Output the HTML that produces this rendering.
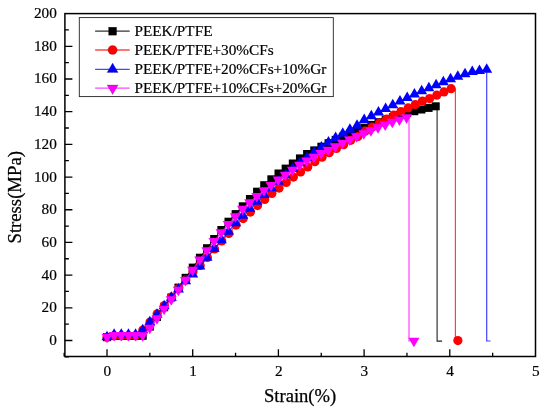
<!DOCTYPE html>
<html><head><meta charset="utf-8"><title>Stress-Strain</title>
<style>html,body{margin:0;padding:0;background:#fff}body{width:550px;height:411px;overflow:hidden}</style>
</head><body>
<svg width="550" height="411" viewBox="0 0 550 411" style="display:block">
<rect width="550" height="411" fill="#fff"/>
<path d="M107 337.2 L114.15 336 L121.29 336 L128.44 336 L135.58 336 L142.73 335.8 L149.88 326.6 L157.02 317 L164.17 307.3 L171.31 297.5 L178.46 287.6 L185.61 277.8 L192.75 267.6 L199.9 257.7 L207.04 248.2 L214.19 239 L221.34 230 L228.48 221.7 L235.63 214.1 L242.77 206.3 L249.92 199 L257.07 191.7 L264.21 185.2 L271.36 179.3 L278.5 173.5 L285.65 168.6 L292.8 163.5 L299.94 158.4 L307.09 154 L314.23 150.4 L321.38 146.7 L328.53 143.2 L335.67 139.9 L342.82 136.7 L349.96 133.6 L357.11 130.6 L364.26 127.7 L371.4 124.9 L378.55 122.2 L385.69 119.6 L392.84 117.2 L399.99 115 L407.13 113 L414.28 111.2 L421.42 109.5 L428.57 107.9 L435.72 106.3 L437.1 106.5 L437.1 341.1 L442.1 341.1" fill="none" stroke="#222" stroke-width="1.1"/>
<rect x="103" y="333.2" width="8" height="8" fill="#000"/>
<rect x="110.15" y="332" width="8" height="8" fill="#000"/>
<rect x="117.29" y="332" width="8" height="8" fill="#000"/>
<rect x="124.44" y="332" width="8" height="8" fill="#000"/>
<rect x="131.58" y="332" width="8" height="8" fill="#000"/>
<rect x="138.73" y="331.8" width="8" height="8" fill="#000"/>
<rect x="145.88" y="322.6" width="8" height="8" fill="#000"/>
<rect x="153.02" y="313" width="8" height="8" fill="#000"/>
<rect x="160.17" y="303.3" width="8" height="8" fill="#000"/>
<rect x="167.31" y="293.5" width="8" height="8" fill="#000"/>
<rect x="174.46" y="283.6" width="8" height="8" fill="#000"/>
<rect x="181.61" y="273.8" width="8" height="8" fill="#000"/>
<rect x="188.75" y="263.6" width="8" height="8" fill="#000"/>
<rect x="195.9" y="253.7" width="8" height="8" fill="#000"/>
<rect x="203.04" y="244.2" width="8" height="8" fill="#000"/>
<rect x="210.19" y="235" width="8" height="8" fill="#000"/>
<rect x="217.34" y="226" width="8" height="8" fill="#000"/>
<rect x="224.48" y="217.7" width="8" height="8" fill="#000"/>
<rect x="231.63" y="210.1" width="8" height="8" fill="#000"/>
<rect x="238.77" y="202.3" width="8" height="8" fill="#000"/>
<rect x="245.92" y="195" width="8" height="8" fill="#000"/>
<rect x="253.07" y="187.7" width="8" height="8" fill="#000"/>
<rect x="260.21" y="181.2" width="8" height="8" fill="#000"/>
<rect x="267.36" y="175.3" width="8" height="8" fill="#000"/>
<rect x="274.5" y="169.5" width="8" height="8" fill="#000"/>
<rect x="281.65" y="164.6" width="8" height="8" fill="#000"/>
<rect x="288.8" y="159.5" width="8" height="8" fill="#000"/>
<rect x="295.94" y="154.4" width="8" height="8" fill="#000"/>
<rect x="303.09" y="150" width="8" height="8" fill="#000"/>
<rect x="310.23" y="146.4" width="8" height="8" fill="#000"/>
<rect x="317.38" y="142.7" width="8" height="8" fill="#000"/>
<rect x="324.53" y="139.2" width="8" height="8" fill="#000"/>
<rect x="331.67" y="135.9" width="8" height="8" fill="#000"/>
<rect x="338.82" y="132.7" width="8" height="8" fill="#000"/>
<rect x="345.96" y="129.6" width="8" height="8" fill="#000"/>
<rect x="353.11" y="126.6" width="8" height="8" fill="#000"/>
<rect x="360.26" y="123.7" width="8" height="8" fill="#000"/>
<rect x="367.4" y="120.9" width="8" height="8" fill="#000"/>
<rect x="374.55" y="118.2" width="8" height="8" fill="#000"/>
<rect x="381.69" y="115.6" width="8" height="8" fill="#000"/>
<rect x="388.84" y="113.2" width="8" height="8" fill="#000"/>
<rect x="395.99" y="111" width="8" height="8" fill="#000"/>
<rect x="403.13" y="109" width="8" height="8" fill="#000"/>
<rect x="410.28" y="107.2" width="8" height="8" fill="#000"/>
<rect x="417.42" y="105.5" width="8" height="8" fill="#000"/>
<rect x="424.57" y="103.9" width="8" height="8" fill="#000"/>
<rect x="431.72" y="102.3" width="8" height="8" fill="#000"/>
<path d="M107 337.3 L114.17 335.8 L121.34 335.8 L128.51 335.8 L135.68 335.8 L142.84 330 L150.01 322 L157.18 313.8 L164.35 305.5 L171.52 297 L178.69 288.5 L185.86 280 L193.03 271.6 L200.2 265.5 L207.37 257.5 L214.53 249 L221.7 241 L228.87 233.5 L236.04 225.1 L243.21 218.6 L250.38 212.1 L257.55 205.6 L264.72 199.4 L271.89 193.4 L279.06 188.1 L286.23 182.4 L293.39 177.1 L300.56 171.9 L307.73 166.9 L314.9 161.7 L322.07 157.2 L329.24 152.7 L336.41 148.5 L343.58 144.7 L350.75 140.3 L357.91 136.6 L365.08 131.2 L372.25 127 L379.42 123 L386.59 119 L393.76 115.2 L400.93 111.5 L408.1 107.9 L415.27 104.5 L422.44 101 L429.6 98.6 L436.77 95.2 L443.94 91.9 L451.11 88.7 L455.4 89 L455.4 340.5 L457.9 340.5" fill="none" stroke="#f00" stroke-width="1.2" stroke-opacity="0.75"/>
<circle cx="107" cy="337.3" r="4.6" fill="#f00"/>
<circle cx="114.17" cy="335.8" r="4.6" fill="#f00"/>
<circle cx="121.34" cy="335.8" r="4.6" fill="#f00"/>
<circle cx="128.51" cy="335.8" r="4.6" fill="#f00"/>
<circle cx="135.68" cy="335.8" r="4.6" fill="#f00"/>
<circle cx="142.84" cy="330" r="4.6" fill="#f00"/>
<circle cx="150.01" cy="322" r="4.6" fill="#f00"/>
<circle cx="157.18" cy="313.8" r="4.6" fill="#f00"/>
<circle cx="164.35" cy="305.5" r="4.6" fill="#f00"/>
<circle cx="171.52" cy="297" r="4.6" fill="#f00"/>
<circle cx="178.69" cy="288.5" r="4.6" fill="#f00"/>
<circle cx="185.86" cy="280" r="4.6" fill="#f00"/>
<circle cx="193.03" cy="271.6" r="4.6" fill="#f00"/>
<circle cx="200.2" cy="265.5" r="4.6" fill="#f00"/>
<circle cx="207.37" cy="257.5" r="4.6" fill="#f00"/>
<circle cx="214.53" cy="249" r="4.6" fill="#f00"/>
<circle cx="221.7" cy="241" r="4.6" fill="#f00"/>
<circle cx="228.87" cy="233.5" r="4.6" fill="#f00"/>
<circle cx="236.04" cy="225.1" r="4.6" fill="#f00"/>
<circle cx="243.21" cy="218.6" r="4.6" fill="#f00"/>
<circle cx="250.38" cy="212.1" r="4.6" fill="#f00"/>
<circle cx="257.55" cy="205.6" r="4.6" fill="#f00"/>
<circle cx="264.72" cy="199.4" r="4.6" fill="#f00"/>
<circle cx="271.89" cy="193.4" r="4.6" fill="#f00"/>
<circle cx="279.06" cy="188.1" r="4.6" fill="#f00"/>
<circle cx="286.23" cy="182.4" r="4.6" fill="#f00"/>
<circle cx="293.39" cy="177.1" r="4.6" fill="#f00"/>
<circle cx="300.56" cy="171.9" r="4.6" fill="#f00"/>
<circle cx="307.73" cy="166.9" r="4.6" fill="#f00"/>
<circle cx="314.9" cy="161.7" r="4.6" fill="#f00"/>
<circle cx="322.07" cy="157.2" r="4.6" fill="#f00"/>
<circle cx="329.24" cy="152.7" r="4.6" fill="#f00"/>
<circle cx="336.41" cy="148.5" r="4.6" fill="#f00"/>
<circle cx="343.58" cy="144.7" r="4.6" fill="#f00"/>
<circle cx="350.75" cy="140.3" r="4.6" fill="#f00"/>
<circle cx="357.91" cy="136.6" r="4.6" fill="#f00"/>
<circle cx="365.08" cy="131.2" r="4.6" fill="#f00"/>
<circle cx="372.25" cy="127" r="4.6" fill="#f00"/>
<circle cx="379.42" cy="123" r="4.6" fill="#f00"/>
<circle cx="386.59" cy="119" r="4.6" fill="#f00"/>
<circle cx="393.76" cy="115.2" r="4.6" fill="#f00"/>
<circle cx="400.93" cy="111.5" r="4.6" fill="#f00"/>
<circle cx="408.1" cy="107.9" r="4.6" fill="#f00"/>
<circle cx="415.27" cy="104.5" r="4.6" fill="#f00"/>
<circle cx="422.44" cy="101" r="4.6" fill="#f00"/>
<circle cx="429.6" cy="98.6" r="4.6" fill="#f00"/>
<circle cx="436.77" cy="95.2" r="4.6" fill="#f00"/>
<circle cx="443.94" cy="91.9" r="4.6" fill="#f00"/>
<circle cx="451.11" cy="88.7" r="4.6" fill="#f00"/>
<circle cx="457.9" cy="340.6" r="4.6" fill="#f00"/>
<path d="M107 337.2 L114.14 334.7 L121.29 334.7 L128.43 334.7 L135.58 334.7 L142.72 330 L149.86 322.2 L157.01 314.5 L164.15 306 L171.3 297.5 L178.44 289.3 L185.58 281.2 L192.73 274.4 L199.87 266.4 L207.02 257.6 L214.16 248.8 L221.3 240.1 L228.45 231.6 L235.59 223 L242.74 215.5 L249.88 208.5 L257.02 201.5 L264.17 194.8 L271.31 188.2 L278.46 181.5 L285.6 175.1 L292.74 168.8 L299.89 163 L307.03 157.8 L314.18 152.3 L321.32 147.4 L328.46 142.4 L335.61 137.8 L342.75 133.6 L349.9 129.7 L357.04 125.7 L364.18 119.8 L371.33 116 L378.47 112.3 L385.62 108.8 L392.76 105.2 L399.98 101.3 L407.2 97.8 L414.43 94.4 L421.66 91.2 L428.88 88 L436.11 85.2 L443.34 82 L450.57 79.2 L457.79 76.7 L465.02 74.2 L472.25 71.9 L479.47 70.9 L486.7 69.5 L486.7 341 L490.5 341" fill="none" stroke="#00f" stroke-width="1.2" stroke-opacity="0.75"/>
<path d="M101.5 340.37H112.5L107 330.87Z" fill="#00f"/>
<path d="M108.64 337.87H119.64L114.14 328.37Z" fill="#00f"/>
<path d="M115.79 337.87H126.79L121.29 328.37Z" fill="#00f"/>
<path d="M122.93 337.87H133.93L128.43 328.37Z" fill="#00f"/>
<path d="M130.08 337.87H141.08L135.58 328.37Z" fill="#00f"/>
<path d="M137.22 333.17H148.22L142.72 323.67Z" fill="#00f"/>
<path d="M144.36 325.37H155.36L149.86 315.87Z" fill="#00f"/>
<path d="M151.51 317.67H162.51L157.01 308.17Z" fill="#00f"/>
<path d="M158.65 309.17H169.65L164.15 299.67Z" fill="#00f"/>
<path d="M165.8 300.67H176.8L171.3 291.17Z" fill="#00f"/>
<path d="M172.94 292.47H183.94L178.44 282.97Z" fill="#00f"/>
<path d="M180.08 284.37H191.08L185.58 274.87Z" fill="#00f"/>
<path d="M187.23 277.57H198.23L192.73 268.07Z" fill="#00f"/>
<path d="M194.37 269.57H205.37L199.87 260.07Z" fill="#00f"/>
<path d="M201.52 260.77H212.52L207.02 251.27Z" fill="#00f"/>
<path d="M208.66 251.97H219.66L214.16 242.47Z" fill="#00f"/>
<path d="M215.8 243.27H226.8L221.3 233.77Z" fill="#00f"/>
<path d="M222.95 234.77H233.95L228.45 225.27Z" fill="#00f"/>
<path d="M230.09 226.17H241.09L235.59 216.67Z" fill="#00f"/>
<path d="M237.24 218.67H248.24L242.74 209.17Z" fill="#00f"/>
<path d="M244.38 211.67H255.38L249.88 202.17Z" fill="#00f"/>
<path d="M251.52 204.67H262.52L257.02 195.17Z" fill="#00f"/>
<path d="M258.67 197.97H269.67L264.17 188.47Z" fill="#00f"/>
<path d="M265.81 191.37H276.81L271.31 181.87Z" fill="#00f"/>
<path d="M272.96 184.67H283.96L278.46 175.17Z" fill="#00f"/>
<path d="M280.1 178.27H291.1L285.6 168.77Z" fill="#00f"/>
<path d="M287.24 171.97H298.24L292.74 162.47Z" fill="#00f"/>
<path d="M294.39 166.17H305.39L299.89 156.67Z" fill="#00f"/>
<path d="M301.53 160.97H312.53L307.03 151.47Z" fill="#00f"/>
<path d="M308.68 155.47H319.68L314.18 145.97Z" fill="#00f"/>
<path d="M315.82 150.57H326.82L321.32 141.07Z" fill="#00f"/>
<path d="M322.96 145.57H333.96L328.46 136.07Z" fill="#00f"/>
<path d="M330.11 140.97H341.11L335.61 131.47Z" fill="#00f"/>
<path d="M337.25 136.77H348.25L342.75 127.27Z" fill="#00f"/>
<path d="M344.4 132.87H355.4L349.9 123.37Z" fill="#00f"/>
<path d="M351.54 128.87H362.54L357.04 119.37Z" fill="#00f"/>
<path d="M358.68 122.97H369.68L364.18 113.47Z" fill="#00f"/>
<path d="M365.83 119.17H376.83L371.33 109.67Z" fill="#00f"/>
<path d="M372.97 115.47H383.97L378.47 105.97Z" fill="#00f"/>
<path d="M380.12 111.97H391.12L385.62 102.47Z" fill="#00f"/>
<path d="M387.26 108.37H398.26L392.76 98.87Z" fill="#00f"/>
<path d="M394.48 104.47H405.48L399.98 94.97Z" fill="#00f"/>
<path d="M401.7 100.97H412.7L407.2 91.47Z" fill="#00f"/>
<path d="M408.93 97.57H419.93L414.43 88.07Z" fill="#00f"/>
<path d="M416.16 94.37H427.16L421.66 84.87Z" fill="#00f"/>
<path d="M423.38 91.17H434.38L428.88 81.67Z" fill="#00f"/>
<path d="M430.61 88.37H441.61L436.11 78.87Z" fill="#00f"/>
<path d="M437.84 85.17H448.84L443.34 75.67Z" fill="#00f"/>
<path d="M445.07 82.37H456.07L450.57 72.87Z" fill="#00f"/>
<path d="M452.29 79.87H463.29L457.79 70.37Z" fill="#00f"/>
<path d="M459.52 77.37H470.52L465.02 67.87Z" fill="#00f"/>
<path d="M466.75 75.07H477.75L472.25 65.57Z" fill="#00f"/>
<path d="M473.97 74.07H484.97L479.47 64.57Z" fill="#00f"/>
<path d="M481.2 72.67H492.2L486.7 63.17Z" fill="#00f"/>
<path d="M107 337 L114.13 335.2 L121.27 335.2 L128.4 335.2 L135.53 335.2 L142.66 335.3 L149.8 328 L156.93 318.5 L164.06 309 L171.2 299.5 L178.33 290 L185.46 280.2 L192.6 269.8 L199.73 259.7 L206.86 250.3 L214 241.2 L221.13 232.5 L228.26 224.2 L235.39 216.3 L242.53 209 L249.66 202.3 L256.79 196.2 L263.93 190.5 L271.06 185.2 L278.19 179.7 L285.32 174.8 L292.46 169.9 L299.59 165 L306.72 160.7 L313.86 156.9 L320.99 153.2 L328.12 150 L335.26 146.3 L342.39 142.8 L349.52 139.7 L356.65 136.5 L363.79 133.4 L370.92 130.4 L378.05 127.4 L385.19 124.6 L392.32 122 L399.45 119.6 L406.59 117.4 L409 117.8 L409 341 L413.9 341" fill="none" stroke="#f0f" stroke-width="1.2" stroke-opacity="0.75"/>
<path d="M101.5 333.83H112.5L107 343.33Z" fill="#f0f"/>
<path d="M108.63 332.03H119.63L114.13 341.53Z" fill="#f0f"/>
<path d="M115.77 332.03H126.77L121.27 341.53Z" fill="#f0f"/>
<path d="M122.9 332.03H133.9L128.4 341.53Z" fill="#f0f"/>
<path d="M130.03 332.03H141.03L135.53 341.53Z" fill="#f0f"/>
<path d="M137.16 332.13H148.16L142.66 341.63Z" fill="#f0f"/>
<path d="M144.3 324.83H155.3L149.8 334.33Z" fill="#f0f"/>
<path d="M151.43 315.33H162.43L156.93 324.83Z" fill="#f0f"/>
<path d="M158.56 305.83H169.56L164.06 315.33Z" fill="#f0f"/>
<path d="M165.7 296.33H176.7L171.2 305.83Z" fill="#f0f"/>
<path d="M172.83 286.83H183.83L178.33 296.33Z" fill="#f0f"/>
<path d="M179.96 277.03H190.96L185.46 286.53Z" fill="#f0f"/>
<path d="M187.1 266.63H198.1L192.6 276.13Z" fill="#f0f"/>
<path d="M194.23 256.53H205.23L199.73 266.03Z" fill="#f0f"/>
<path d="M201.36 247.13H212.36L206.86 256.63Z" fill="#f0f"/>
<path d="M208.5 238.03H219.5L214 247.53Z" fill="#f0f"/>
<path d="M215.63 229.33H226.63L221.13 238.83Z" fill="#f0f"/>
<path d="M222.76 221.03H233.76L228.26 230.53Z" fill="#f0f"/>
<path d="M229.89 213.13H240.89L235.39 222.63Z" fill="#f0f"/>
<path d="M237.03 205.83H248.03L242.53 215.33Z" fill="#f0f"/>
<path d="M244.16 199.13H255.16L249.66 208.63Z" fill="#f0f"/>
<path d="M251.29 193.03H262.29L256.79 202.53Z" fill="#f0f"/>
<path d="M258.43 187.33H269.43L263.93 196.83Z" fill="#f0f"/>
<path d="M265.56 182.03H276.56L271.06 191.53Z" fill="#f0f"/>
<path d="M272.69 176.53H283.69L278.19 186.03Z" fill="#f0f"/>
<path d="M279.82 171.63H290.82L285.32 181.13Z" fill="#f0f"/>
<path d="M286.96 166.73H297.96L292.46 176.23Z" fill="#f0f"/>
<path d="M294.09 161.83H305.09L299.59 171.33Z" fill="#f0f"/>
<path d="M301.22 157.53H312.22L306.72 167.03Z" fill="#f0f"/>
<path d="M308.36 153.73H319.36L313.86 163.23Z" fill="#f0f"/>
<path d="M315.49 150.03H326.49L320.99 159.53Z" fill="#f0f"/>
<path d="M322.62 146.83H333.62L328.12 156.33Z" fill="#f0f"/>
<path d="M329.76 143.13H340.76L335.26 152.63Z" fill="#f0f"/>
<path d="M336.89 139.63H347.89L342.39 149.13Z" fill="#f0f"/>
<path d="M344.02 136.53H355.02L349.52 146.03Z" fill="#f0f"/>
<path d="M351.15 133.33H362.15L356.65 142.83Z" fill="#f0f"/>
<path d="M358.29 130.23H369.29L363.79 139.73Z" fill="#f0f"/>
<path d="M365.42 127.23H376.42L370.92 136.73Z" fill="#f0f"/>
<path d="M372.55 124.23H383.55L378.05 133.73Z" fill="#f0f"/>
<path d="M379.69 121.43H390.69L385.19 130.93Z" fill="#f0f"/>
<path d="M386.82 118.83H397.82L392.32 128.33Z" fill="#f0f"/>
<path d="M393.95 116.43H404.95L399.45 125.93Z" fill="#f0f"/>
<path d="M401.09 114.23H412.09L406.59 123.73Z" fill="#f0f"/>
<path d="M408.4 337.63H419.4L413.9 347.13Z" fill="#f0f"/>
<rect x="64.9" y="13.6" width="470.6" height="342.9" fill="none" stroke="#000" stroke-width="1.5"/>
<path d="M64.9 356.85h4 M64.9 340.5h7.5 M64.9 324.15h4 M64.9 307.81h7.5 M64.9 291.46h4 M64.9 275.12h7.5 M64.9 258.77h4 M64.9 242.43h7.5 M64.9 226.08h4 M64.9 209.74h7.5 M64.9 193.39h4 M64.9 177.05h7.5 M64.9 160.7h4 M64.9 144.36h7.5 M64.9 128.01h4 M64.9 111.67h7.5 M64.9 95.32h4 M64.9 78.98h7.5 M64.9 62.63h4 M64.9 46.29h7.5 M64.9 29.94h4 M64.15 356.5v-3.8 M107 356.5v-7.2 M149.85 356.5v-3.8 M192.7 356.5v-7.2 M235.55 356.5v-3.8 M278.4 356.5v-7.2 M321.25 356.5v-3.8 M364.1 356.5v-7.2 M406.95 356.5v-3.8 M449.8 356.5v-7.2 M492.65 356.5v-3.8" stroke="#000" stroke-width="1.3" fill="none"/>
<g font-family="'Liberation Serif', 'Times New Roman', serif" font-size="15.25" fill="#000" stroke="#000" stroke-width="0.2">
<text x="56.8" y="345" text-anchor="end">0</text>
<text x="56.8" y="312.31" text-anchor="end">20</text>
<text x="56.8" y="279.62" text-anchor="end">40</text>
<text x="56.8" y="246.93" text-anchor="end">60</text>
<text x="56.8" y="214.24" text-anchor="end">80</text>
<text x="56.8" y="181.55" text-anchor="end">100</text>
<text x="56.8" y="148.86" text-anchor="end">120</text>
<text x="56.8" y="116.17" text-anchor="end">140</text>
<text x="56.8" y="83.48" text-anchor="end">160</text>
<text x="56.8" y="50.79" text-anchor="end">180</text>
<text x="56.8" y="18.1" text-anchor="end">200</text>
<text x="107.3" y="376.4" text-anchor="middle">0</text>
<text x="193" y="376.4" text-anchor="middle">1</text>
<text x="278.7" y="376.4" text-anchor="middle">2</text>
<text x="364.4" y="376.4" text-anchor="middle">3</text>
<text x="450.1" y="376.4" text-anchor="middle">4</text>
<text x="535.8" y="376.4" text-anchor="middle">5</text>
</g>
<text x="300.1" y="402.4" text-anchor="middle" font-family="'Liberation Serif', 'Times New Roman', serif" font-size="18.6" fill="#000" stroke="#000" stroke-width="0.25">Strain(%)</text>
<text transform="translate(20.9 197.3) rotate(-90)" text-anchor="middle" font-family="'Liberation Serif', 'Times New Roman', serif" font-size="18.7" fill="#000" stroke="#000" stroke-width="0.25">Stress(MPa)</text>
<rect x="79.3" y="17.6" width="254" height="79" fill="#fff" stroke="#222" stroke-width="0.9"/>
<g font-family="'Liberation Serif', 'Times New Roman', serif" font-size="15.25" fill="#000" stroke="#000" stroke-width="0.2">
<path d="M95.1 31.2H129.7" stroke="#333" stroke-width="1.3"/>
<rect x="108.6" y="27.2" width="8" height="8" fill="#000"/>
<text x="134.5" y="36">PEEK/PTFE</text>
<path d="M95.1 50.0H129.7" stroke="#f00" stroke-width="1.3" stroke-opacity="0.72"/>
<circle cx="112.6" cy="50" r="4.6" fill="#f00"/>
<text x="134.5" y="54.8">PEEK/PTFE+30%CFs</text>
<path d="M95.1 69.3H129.7" stroke="#00f" stroke-width="1.3" stroke-opacity="0.72"/>
<path d="M107.1 72.47H118.1L112.6 62.97Z" fill="#00f"/>
<text x="134.5" y="74.1">PEEK/PTFE+20%CFs+10%Gr</text>
<path d="M95.1 88.2H129.7" stroke="#f0f" stroke-width="1.3" stroke-opacity="0.72"/>
<path d="M107.1 85.03H118.1L112.6 94.53Z" fill="#f0f"/>
<text x="134.5" y="93">PEEK/PTFE+10%CFs+20%Gr</text>
</g>
</svg>
</body></html>
